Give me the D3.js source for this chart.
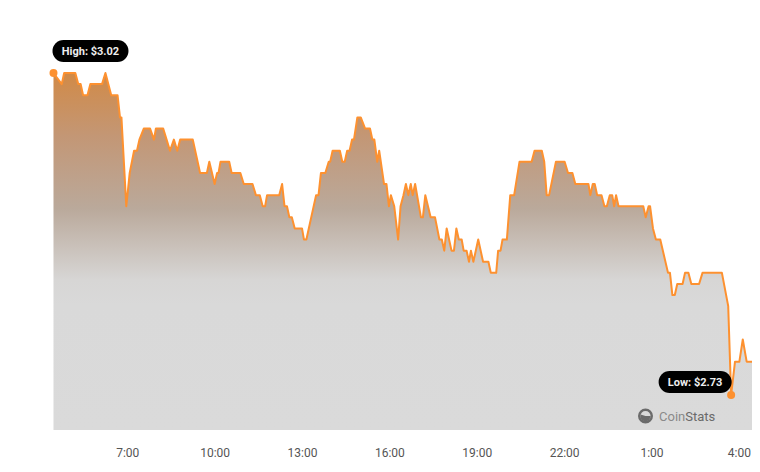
<!DOCTYPE html>
<html>
<head>
<meta charset="utf-8">
<script src="https://cdn.jsdelivr.net/npm/d3@7/dist/d3.min.js"></script>
<style>
  html, body { margin: 0; padding: 0; background: #ffffff; }
  svg { display: block; font-family: Roboto, "Noto Sans", sans-serif; }
</style>
</head>
<body>
<svg id="chart" width="760" height="472"></svg>
<script>
// ---- data (24h price, minutes after 04:27) ----
const startTime = new Date(2024, 0, 1, 4, 27);
const minutesFromStart = [
  1, 18, 23, 46, 52, 57, 62, 71, 77, 101,
  108, 120, 133, 138, 141, 151, 158, 167, 173, 178,
  187, 200, 208, 212, 227, 234, 241, 249, 256, 262,
  288, 303, 317, 322, 333, 338, 341, 345, 363, 368,
  386, 393, 411, 418, 426, 432, 437, 441, 466, 472,
  477, 482, 487, 492, 498, 513, 517, 522, 542, 547,
  552, 561, 568, 571, 576, 591, 596, 601, 606, 611,
  616, 620, 627, 634, 643, 653, 658, 662, 668, 672,
  682, 687, 692, 696, 703, 711, 716, 722, 727, 732,
  737, 741, 746, 758, 762, 767, 778, 787, 796, 801,
  806, 811, 821, 826, 831, 836, 842, 846, 852, 857,
  861, 866, 876, 886, 897, 902, 913, 917, 922, 926,
  935, 942, 950, 961, 986, 992, 1007, 1012, 1017, 1022,
  1036, 1054, 1061, 1070, 1076, 1103, 1107, 1112, 1116, 1121,
  1130, 1136, 1141, 1147, 1152, 1156, 1160, 1165, 1216, 1221,
  1227, 1230, 1236, 1242, 1251, 1267, 1271, 1276, 1281, 1286,
  1297, 1302, 1309, 1315, 1331, 1338, 1378, 1391, 1397, 1405,
  1414, 1421, 1429, 1440
];
const prices = [
  3.02, 3.01, 3.02, 3.02, 3.01, 3.01, 3.00, 3.00, 3.01, 3.01,
  3.02, 3.00, 3.00, 2.98, 2.98, 2.90, 2.93, 2.95, 2.95, 2.96,
  2.97, 2.97, 2.96, 2.97, 2.97, 2.96, 2.95, 2.96, 2.95, 2.96,
  2.96, 2.93, 2.93, 2.94, 2.92, 2.93, 2.93, 2.94, 2.94, 2.93,
  2.93, 2.92, 2.92, 2.91, 2.91, 2.90, 2.90, 2.91, 2.91, 2.92,
  2.90, 2.90, 2.89, 2.89, 2.88, 2.88, 2.87, 2.87, 2.91, 2.91,
  2.93, 2.93, 2.94, 2.94, 2.95, 2.95, 2.94, 2.94, 2.95, 2.95,
  2.96, 2.96, 2.98, 2.98, 2.97, 2.97, 2.96, 2.96, 2.94, 2.95,
  2.92, 2.92, 2.90, 2.91, 2.90, 2.87, 2.90, 2.91, 2.92, 2.91,
  2.92, 2.91, 2.92, 2.89, 2.89, 2.91, 2.89, 2.89, 2.87, 2.87,
  2.86, 2.88, 2.86, 2.86, 2.88, 2.87, 2.87, 2.86, 2.86, 2.85,
  2.86, 2.85, 2.87, 2.85, 2.85, 2.84, 2.84, 2.86, 2.86, 2.87,
  2.87, 2.91, 2.91, 2.94, 2.94, 2.95, 2.95, 2.94, 2.91, 2.91,
  2.94, 2.94, 2.93, 2.93, 2.92, 2.92, 2.91, 2.92, 2.92, 2.91,
  2.91, 2.90, 2.90, 2.91, 2.91, 2.90, 2.91, 2.90, 2.90, 2.89,
  2.90, 2.90, 2.88, 2.87, 2.87, 2.84, 2.84, 2.82, 2.82, 2.83,
  2.83, 2.84, 2.84, 2.83, 2.83, 2.84, 2.84, 2.81, 2.73, 2.76,
  2.76, 2.78, 2.76, 2.76
];
const tickLabels = ["7:00", "10:00", "13:00", "16:00", "19:00", "22:00", "1:00", "4:00"];
const highLabel = "High: $3.02";
const lowLabel = "Low: $2.73";
const brandParts = ["Coin", "Stats"];

(function () {
  const data = minutesFromStart.map((m, i) => ({
    t: new Date(startTime.getTime() + m * 60000),
    v: prices[i]
  }));
  const endTime = new Date(startTime.getTime() + 24 * 3600000);

  const svg = d3.select("#chart");
  const plotLeft = 53, plotRight = 752, plotTop = 73, lowY = 395, base = 430;

  const x = d3.scaleTime().domain([startTime, endTime]).range([plotLeft, plotRight]);
  const y = d3.scaleLinear().domain([d3.min(prices), d3.max(prices)]).range([lowY, plotTop]);

  const defs = svg.append("defs");
  const grad = defs.append("linearGradient")
    .attr("id", "areaGrad")
    .attr("gradientUnits", "userSpaceOnUse")
    .attr("x1", 0).attr("x2", 0)
    .attr("y1", plotTop).attr("y2", base);
  [
    [0.00, "#d18a47"],
    [0.18, "#c39776"],
    [0.38, "#baa99b"],
    [0.58, "#d7d6d5"],
    [0.65, "#d9d9d9"],
    [1.00, "#dadada"]
  ].forEach(([o, c]) => grad.append("stop").attr("offset", o).attr("stop-color", c));

  const area = d3.area()
    .x(d => x(d.t))
    .y0(base)
    .y1(d => y(d.v));
  const line = d3.line()
    .x(d => x(d.t))
    .y(d => y(d.v));

  svg.append("path").datum(data)
    .attr("d", area)
    .attr("fill", "url(#areaGrad)");

  svg.append("path").datum(data)
    .attr("d", line)
    .attr("fill", "none")
    .attr("stroke", "#fd9130")
    .attr("stroke-width", 2)
    .attr("stroke-linejoin", "round");

  const tickDates = tickLabels.map(s => {
    const h = parseInt(s.split(":")[0], 10);
    const day = h < 5 ? 2 : 1;
    return new Date(2024, 0, day, h, 0);
  });
  const axis = d3.axisBottom(x)
    .tickValues(tickDates)
    .tickFormat((d, i) => tickLabels[i])
    .tickSize(0)
    .tickPadding(3);
  const gAxis = svg.append("g").attr("transform", `translate(0,${base + 15})`).call(axis);
  gAxis.select(".domain").remove();
  gAxis.selectAll("text")
    .attr("fill", "#555")
    .style("font-size", "12px")
    .style("font-family", "Roboto, sans-serif");

  const iHigh = prices.indexOf(d3.max(prices));
  const iLow = prices.indexOf(d3.min(prices));
  const hp = data[iHigh], lp = data[iLow];

  svg.append("circle").attr("cx", x(hp.t)).attr("cy", y(hp.v)).attr("r", 4).attr("fill", "#fd9130");
  svg.append("circle").attr("cx", x(lp.t)).attr("cy", y(lp.v)).attr("r", 4).attr("fill", "#fd9130");

  function pill(text, cx, cy, w) {
    const g = svg.append("g");
    g.append("rect")
      .attr("x", cx - w / 2).attr("y", cy - 11)
      .attr("width", w).attr("height", 22)
      .attr("rx", 11).attr("ry", 11)
      .attr("fill", "#000");
    g.append("text")
      .attr("x", cx).attr("y", cy)
      .attr("dy", "0.35em")
      .attr("text-anchor", "middle")
      .attr("fill", "#eeeeee")
      .style("font-size", "11px")
      .style("font-weight", "700")
      .style("font-family", "Roboto, sans-serif")
      .text(text);
  }
  pill(highLabel, x(hp.t) + 37, y(hp.v) - 22, 76);
  pill(lowLabel, x(lp.t) - 36, y(lp.v) - 13, 73);

  const wm = svg.append("g").attr("transform", "translate(645.5,416)");
  wm.append("circle").attr("r", 6.3).attr("fill", "none").attr("stroke", "#6b6b6b").attr("stroke-width", 2.4);
  wm.append("path")
    .attr("d", d3.arc()({innerRadius: 0, outerRadius: 5.2, startAngle: Math.PI * 0.5, endAngle: Math.PI * 1.6}))
    .attr("fill", "#6b6b6b");
  const wt = svg.append("text").attr("x", 659).attr("y", 420.5)
    .style("font-size", "13px").style("font-family", "Roboto, sans-serif");
  wt.append("tspan").attr("fill", "#8a8a8a").text(brandParts[0]);
  wt.append("tspan").attr("fill", "#6a6a6a").text(brandParts[1]);
})();
</script>
</body>
</html>
